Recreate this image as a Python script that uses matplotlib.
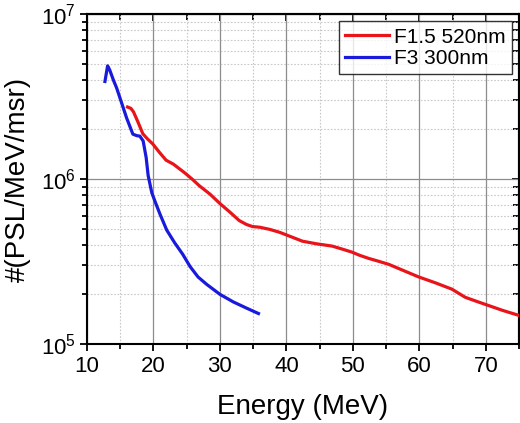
import matplotlib
matplotlib.use("Agg")
from matplotlib import pyplot as plt
from matplotlib.ticker import MultipleLocator, LogLocator, NullFormatter

# F1.5 520nm
red_energy = [16.1, 16.6, 17.0, 17.7, 18.4, 19.1, 19.9, 20.9, 21.9, 23.0, 24.7, 25.8,
              26.9, 28.5, 30.0, 31.5, 32.9, 34.0, 34.9, 36.0, 37.5, 39.0, 40.5, 42.4,
              44.5, 46.9, 48.5, 49.9, 51.0, 52.4, 53.9, 55.4, 57.5, 59.9, 62.4, 64.9,
              66.9, 68.5, 69.9, 72.5, 75.0]
red_counts = [2.73e6, 2.68e6, 2.55e6, 2.2e6, 1.88e6, 1.75e6, 1.63e6, 1.45e6, 1.3e6,
              1.23e6, 1.09e6, 1.0e6, 9.1e5, 8.1e5, 7.1e5, 6.3e5, 5.6e5, 5.3e5, 5.15e5,
              5.1e5, 4.95e5, 4.75e5, 4.5e5, 4.2e5, 4.05e5, 3.92e5, 3.75e5, 3.6e5, 3.45e5,
              3.3e5, 3.17e5, 3.04e5, 2.8e5, 2.55e5, 2.35e5, 2.15e5, 1.92e5, 1.82e5,
              1.74e5, 1.6e5, 1.49e5]

# F3 300nm
blue_energy = [12.7, 13.1, 13.4, 14.0, 14.45, 15.2, 15.95, 16.9, 17.5, 17.95, 18.45,
               18.9, 19.2, 19.75, 20.3, 21.0, 22.0, 23.2, 24.4, 25.5, 26.7, 28.0, 30.0,
               32.0, 34.0, 35.8]
blue_counts = [3.9e6, 4.85e6, 4.6e6, 3.95e6, 3.57e6, 2.9e6, 2.35e6, 1.87e6, 1.83e6,
               1.82e6, 1.7e6, 1.35e6, 1.05e6, 8.25e5, 7.2e5, 6.1e5, 4.9e5, 4.1e5,
               3.5e5, 2.95e5, 2.55e5, 2.3e5, 2.0e5, 1.8e5, 1.65e5, 1.53e5]

plt.rcParams["font.family"] = ["Liberation Sans", "DejaVu Sans"]
plt.rcParams["mathtext.fontset"] = "custom"
plt.rcParams["mathtext.rm"] = "Liberation Sans"
plt.rcParams["mathtext.it"] = "Liberation Sans:italic"
plt.rcParams["mathtext.bf"] = "Liberation Sans:bold"

fig = plt.figure(figsize=(5.2, 4.23), dpi=100)
ax = fig.add_axes([87 / 520, 1 - 344 / 423, 432 / 520, 330 / 423])

ax.plot(red_energy, red_counts, color="#e8141a", lw=2.3, label="F1.5 520nm", zorder=3)
ax.plot(blue_energy, blue_counts, color="#1a1adc", lw=2.3, label="F3 300nm", zorder=3)

ax.set_yscale("log")
ax.set_xlim(10, 75)
ax.set_ylim(1e5, 1e7)
ax.xaxis.set_major_locator(MultipleLocator(10))
ax.xaxis.set_minor_locator(MultipleLocator(5))
ax.yaxis.set_major_locator(LogLocator(base=10))
ax.yaxis.set_minor_locator(LogLocator(base=10, subs=range(2, 10)))
ax.yaxis.set_minor_formatter(NullFormatter())

ax.grid(which="major", color="#8c8c8c", lw=0.9, ls="-")
ax.grid(which="minor", color="#c8c8c8", lw=0.8, ls=(0, (1.5, 1.5)))
ax.set_axisbelow(True)

for s in ax.spines.values():
    s.set_linewidth(1.5)

ax.tick_params(which="both", direction="out", width=1.3, labelsize=16,
               top=False, right=False)
ax.tick_params(which="major", length=5)
ax.tick_params(which="minor", length=3.5)
ax.tick_params(axis="x", pad=4)
ax.tick_params(axis="y", pad=3)

top = ax.secondary_xaxis("top")
top.xaxis.set_major_locator(MultipleLocator(10))
top.xaxis.set_minor_locator(MultipleLocator(5))
top.tick_params(which="both", direction="in", width=1.3, labeltop=False)
top.tick_params(which="major", length=5)
top.tick_params(which="minor", length=4)
top.spines["top"].set_linewidth(1.5)

right = ax.secondary_yaxis("right")
right.yaxis.set_minor_locator(LogLocator(base=10, subs=range(2, 10)))
right.tick_params(which="both", direction="in", width=1.3, labelright=False)
right.tick_params(which="major", length=5)
right.tick_params(which="minor", length=4)
right.yaxis.set_minor_formatter(NullFormatter())
right.spines["right"].set_linewidth(1.5)

ax.set_xlabel("Energy (MeV)", fontsize=20, labelpad=12)
ax.set_ylabel("#(PSL/MeV/msr)", fontsize=20, labelpad=7)

leg = ax.legend(loc="upper right", fontsize=15, frameon=True, fancybox=False,
                handlelength=2.1, handletextpad=0.25, borderpad=0.3,
                labelspacing=0.12, borderaxespad=0.35)
leg.get_frame().set_edgecolor("black")
leg.get_frame().set_linewidth(1.0)

fig.savefig("out.png", dpi=100)
